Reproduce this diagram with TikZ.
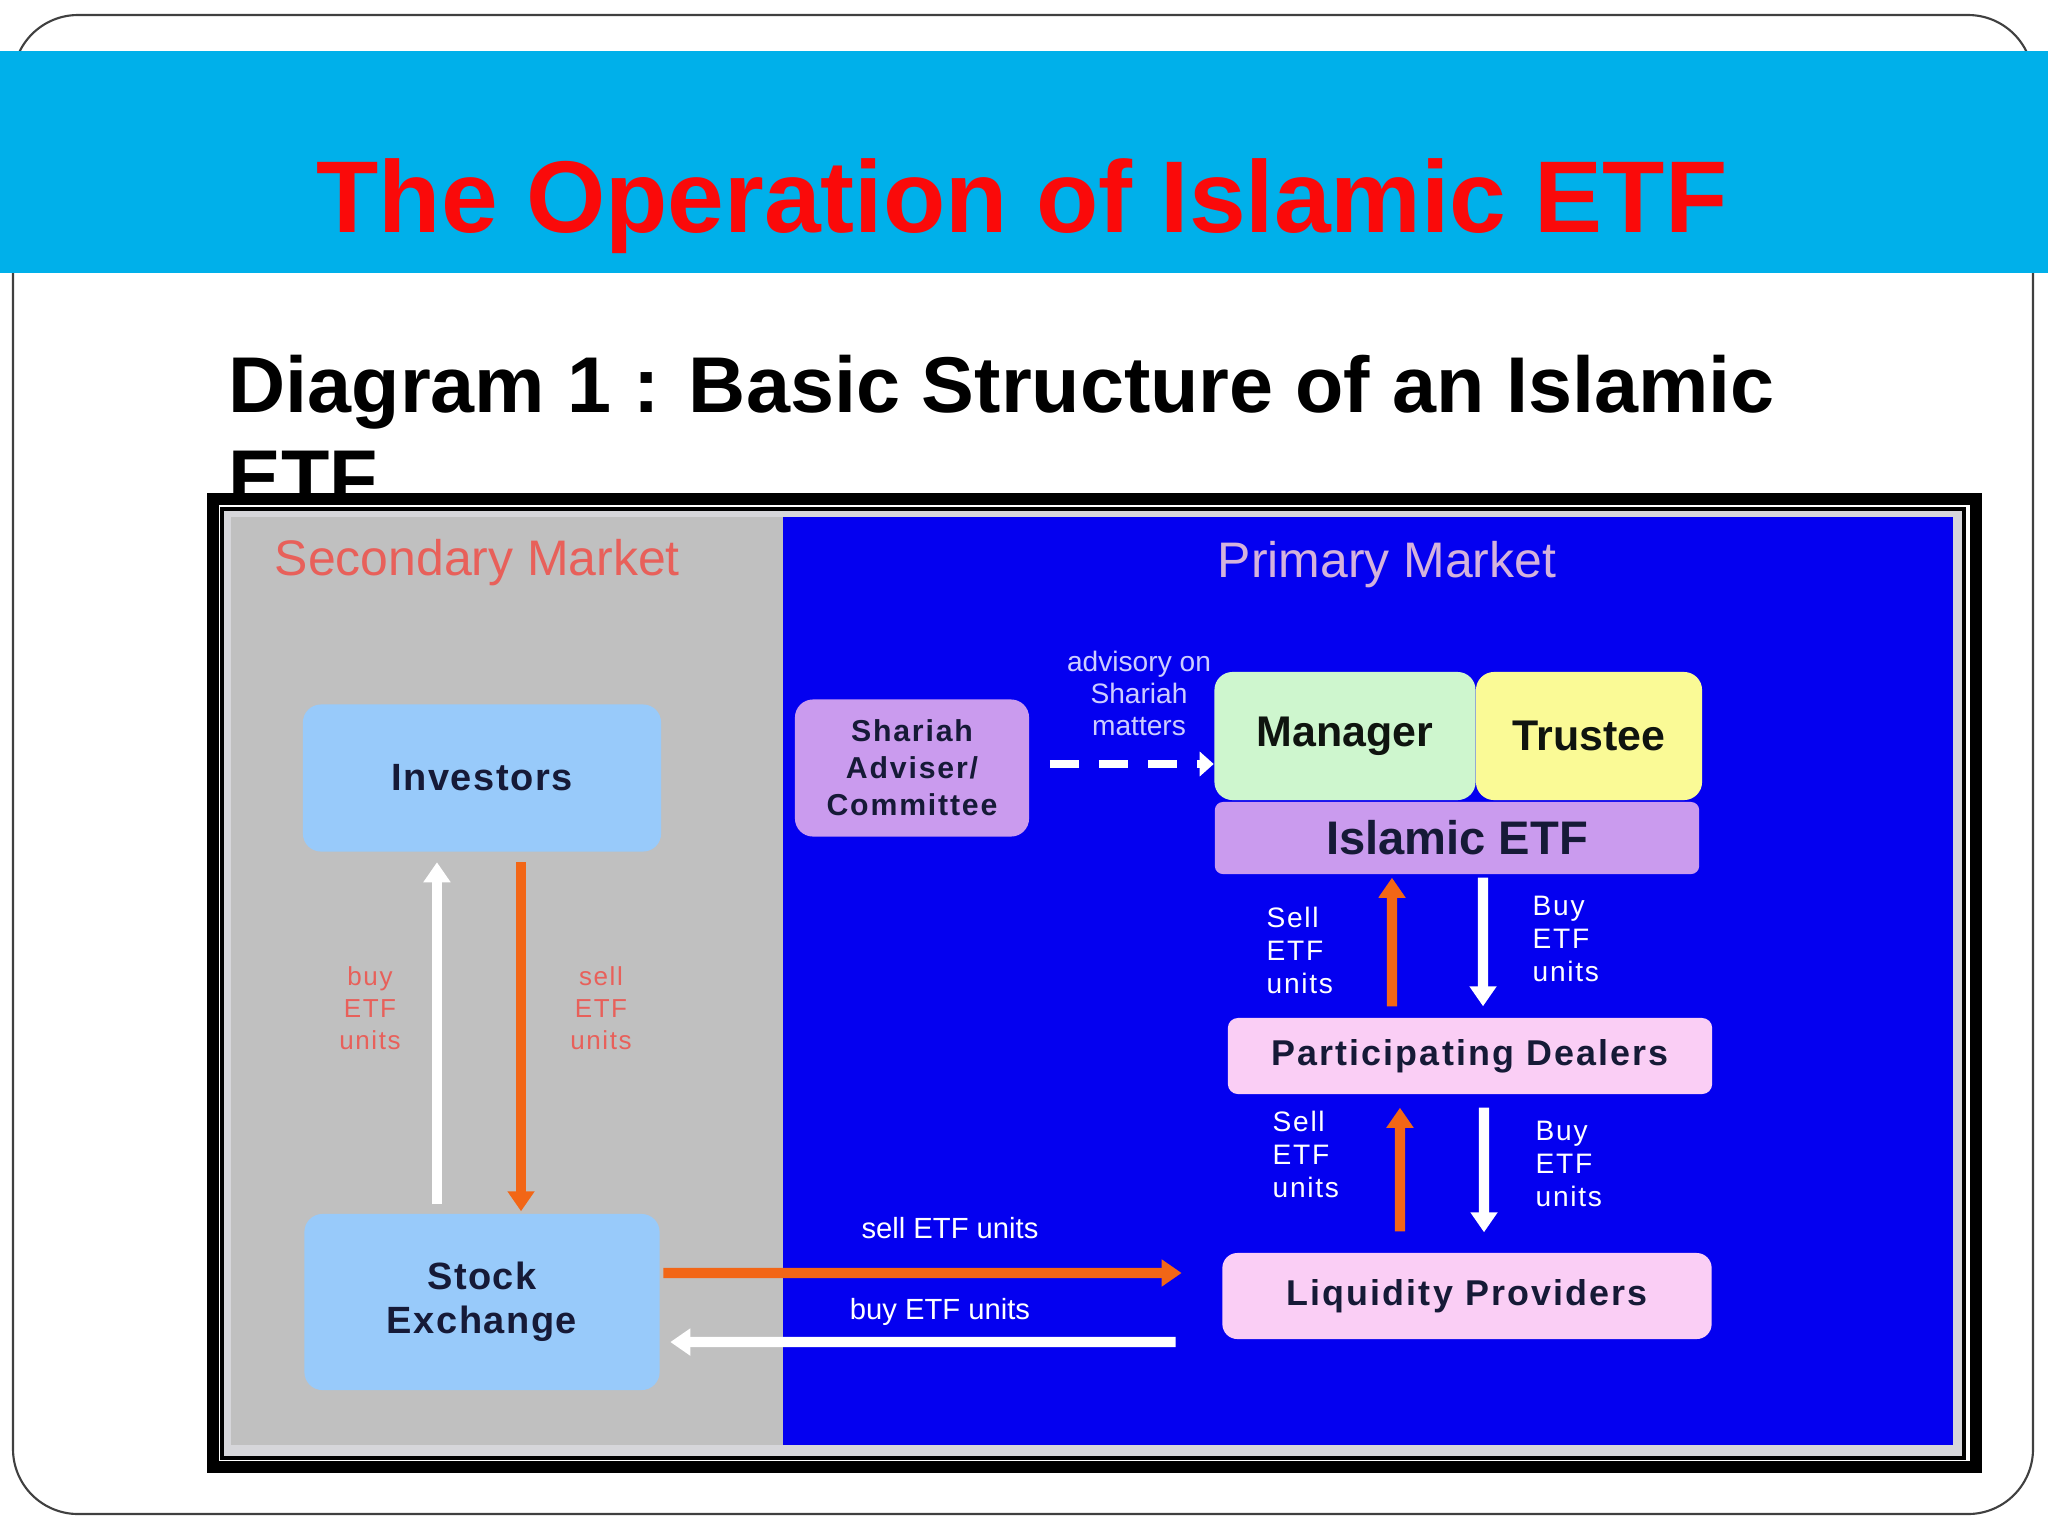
\documentclass[tikz,border=0pt]{standalone}
\usepackage{fontspec}
\setmainfont{Liberation Sans}
\newfontfamily\spaced[LetterSpace=6]{Liberation Sans}
\newfontfamily\spacedb[LetterSpace=4]{Liberation Sans}
\usetikzlibrary{arrows.meta}
\definecolor{bandcyan}{RGB}{0,176,234}
\definecolor{titlered}{RGB}{250,10,10}
\definecolor{panelgrey}{RGB}{192,192,192}
\definecolor{panelblue}{RGB}{4,0,240}
\definecolor{bevel}{RGB}{214,214,218}
\definecolor{boxblue}{RGB}{152,202,250}
\definecolor{lav}{RGB}{202,155,238}
\definecolor{mint}{RGB}{206,246,206}
\definecolor{yell}{RGB}{250,250,150}
\definecolor{pinkbox}{RGB}{250,206,245}
\definecolor{navy}{RGB}{22,26,55}
\definecolor{darktxt}{RGB}{15,20,15}
\definecolor{salmon}{RGB}{232,96,90}
\definecolor{primlab}{RGB}{212,178,220}
\definecolor{advis}{RGB}{205,205,255}
\definecolor{arrorange}{RGB}{242,102,22}
\tikzset{
  box/.style={rectangle, rounded corners=0.18cm, inner sep=0pt, text=navy, align=center},
  smallw/.style={text=white, align=left, inner sep=0pt, font=\spaced\fontsize{8pt}{9.4pt}\selectfont},
  smalls/.style={text=salmon, align=center, inner sep=0pt, font=\spaced\fontsize{7.4pt}{9.1pt}\selectfont},
  oarrow/.style={draw=arrorange, line width=2.9pt, -{Triangle[length=0.2cm,width=0.26cm]}},
  warrow/.style={draw=white, line width=2.9pt, -{Triangle[length=0.2cm,width=0.26cm]}},
}
\begin{document}
\begin{tikzpicture}[x=0.01cm,y=-0.01cm]
\useasboundingbox (0,0) rectangle (2048,1536);
\fill[white] (0,0) rectangle (2048,1536);
% slide frame
\draw[line width=0.6pt, draw=black!75, rounded corners=0.65cm] (13,15) rectangle (2033,1514);
% band
\fill[bandcyan] (0,51) rectangle (2048,273);
\node[anchor=base, text=titlered, inner sep=0pt, font=\bfseries\fontsize{29pt}{34pt}\selectfont] (title) at (1022,232) {The Operation of Islamic ETF};
% subtitle
\node[anchor=base west, inner sep=0pt, font=\bfseries\fontsize{22.5pt}{26pt}\selectfont] (sub1) at (228,412) {Diagram 1 : Basic Structure of an Islamic};
\node[anchor=base west, inner sep=0pt, font=\bfseries\fontsize{22.5pt}{26pt}\selectfont] (sub2) at (228,505) {ETF};
% diagram frame
\draw[line width=3.4pt] (213,499) rectangle (1976,1467);
\draw[line width=0.9pt] (222,509) rectangle (1964,1458);
\fill[bevel] (224,511) rectangle (1962,1456);
\fill[panelgrey] (231,517) rectangle (783,1445);
\fill[panelblue] (783,517) rectangle (1953,1445);
% market labels
\node[anchor=base west, inner sep=0pt, text=salmon, font=\fontsize{14.2pt}{16pt}\selectfont] (secm) at (274,575) {Secondary Market};
\node[anchor=base west, inner sep=0pt, text=primlab, font=\fontsize{14.2pt}{16pt}\selectfont] (prim) at (1217,577) {Primary Market};
% boxes
\node[box, fill=boxblue, minimum width=3.58cm, minimum height=1.47cm, font=\spacedb\bfseries\fontsize{10.8pt}{12.2pt}\selectfont] (inv) at (482,778) {Investors};
\node[box, fill=boxblue, minimum width=3.55cm, minimum height=1.76cm, font=\spacedb\bfseries\fontsize{10.8pt}{12.4pt}\selectfont] (se) at (482,1302) {Stock\\Exchange};
\node[box, fill=lav, minimum width=2.34cm, minimum height=1.37cm, font=\spaced\bfseries\fontsize{8.6pt}{10.5pt}\selectfont] (sha) at (912,768) {Shariah\\Adviser/\\Committee};
\node[box, fill=mint, text=darktxt, minimum width=2.61cm, minimum height=1.28cm, font=\bfseries\fontsize{12.2pt}{14pt}\selectfont] (mgr) at (1345,736) {Manager};
\node[box, fill=yell, text=darktxt, minimum width=2.26cm, minimum height=1.28cm, font=\bfseries\fontsize{12.2pt}{14pt}\selectfont] (tru) at (1589,736) {Trustee};
\node[box, rounded corners=0.08cm, fill=lav, minimum width=4.84cm, minimum height=0.72cm, font=\bfseries\fontsize{13.4pt}{15pt}\selectfont] (ietf) at (1457,838) {Islamic ETF};
\node[box, rounded corners=0.1cm, fill=pinkbox, minimum width=4.84cm, minimum height=0.76cm, font=\spaced\bfseries\fontsize{10.2pt}{12pt}\selectfont] (pd) at (1470,1056) {Participating Dealers};
\node[box, rounded corners=0.15cm, fill=pinkbox, minimum width=4.89cm, minimum height=0.86cm, font=\spaced\bfseries\fontsize{10.2pt}{12pt}\selectfont] (lp) at (1467,1296) {Liquidity Providers};
% secondary market arrows
\draw[oarrow] ([xshift=0.39cm,yshift=-0.1cm]inv.south) -- ([xshift=0.39cm,yshift=0.02cm]se.north);
\draw[warrow] ([xshift=-0.45cm,yshift=0.09cm]se.north) -- ([xshift=-0.45cm,yshift=-0.1cm]inv.south);
\node[smalls] (buy1) at (370,1008) {buy\\ETF\\units};
\node[smalls] (sell1) at (601,1008) {sell\\ETF\\units};
% horizontal arrows
\draw[oarrow] ([xshift=0.03cm,yshift=0.29cm]se.east) -- ([xshift=-0.40cm,yshift=0.23cm]lp.west);
\draw[warrow] ([xshift=-0.46cm,yshift=-0.46cm]lp.west) -- ([xshift=0.1cm,yshift=-0.40cm]se.east);
\node[text=white, inner sep=0pt, font=\fontsize{8.3pt}{10pt}\selectfont] (sellh) at (950,1228) {sell ETF units};
\node[text=white, inner sep=0pt, font=\fontsize{8.3pt}{10pt}\selectfont] (buyh) at (940,1312) {buy ETF units};
% dashed advisory arrow
\draw[draw=white, line width=2.3pt, dash pattern=on 0.29cm off 0.2cm, -{Triangle[length=0.14cm,width=0.24cm]}] ([xshift=0.2cm,yshift=0.04cm]sha.east) -- ([yshift=0.04cm]sha.east -| mgr.west);
\node[text=advis, align=center, inner sep=0pt, font=\fontsize{8pt}{9.1pt}\selectfont] (adv) at (1139,693) {advisory on\\Shariah\\matters};
% primary market vertical arrows
\draw[oarrow] ([xshift=-0.78cm,yshift=0.11cm]pd.north) -- ([xshift=-0.65cm,yshift=-0.03cm]ietf.south);
\draw[warrow] ([xshift=0.26cm,yshift=-0.03cm]ietf.south) -- ([xshift=0.13cm,yshift=0.11cm]pd.north);
\draw[oarrow] ([xshift=-0.67cm,yshift=0.21cm]lp.north) -- ([xshift=-0.70cm,yshift=-0.13cm]pd.south);
\draw[warrow] ([xshift=0.14cm,yshift=-0.13cm]pd.south) -- ([xshift=0.17cm,yshift=0.20cm]lp.north);
\node[smallw, anchor=west] (sell2) at (1266,950) {Sell\\ETF\\units};
\node[smallw, anchor=west] (buy2) at (1532,939) {Buy\\ETF\\units};
\node[smallw, anchor=west] (sell3) at (1272,1154) {Sell\\ETF\\units};
\node[smallw, anchor=west] (buy3) at (1535,1164) {Buy\\ETF\\units};
\end{tikzpicture}
\end{document}
